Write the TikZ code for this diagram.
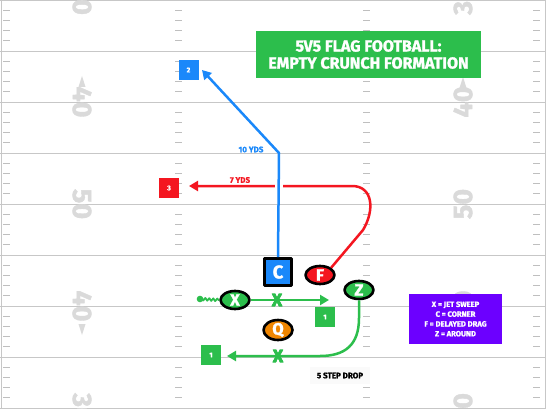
\documentclass[tikz,border=0pt]{standalone}
\usepackage{fontspec}
\setmainfont{Fira Sans}[BoldFeatures={FakeBold=1.4}]
\usetikzlibrary{arrows,arrows.meta,shapes.geometric,positioning,decorations.pathmorphing}

\definecolor{flaggreen}{RGB}{44,190,76}
\definecolor{routeblue}{RGB}{26,136,250}
\definecolor{routered}{RGB}{244,22,32}
\definecolor{qborange}{RGB}{240,134,0}
\definecolor{legendpurple}{RGB}{108,0,255}
\definecolor{numgray}{RGB}{218,218,218}

\begin{document}
\begin{tikzpicture}[x=1pt,y=-1pt,>={Triangle[length=9pt,width=10pt]},line join=round,
    yardline/.style={draw=black!22,line width=0.9pt},
    hash/.style={draw=black!25,line width=0.9pt},
    fieldnum/.style={text=numgray,font=\fontsize{27}{27}\selectfont\bfseries,inner sep=0pt},
    player/.style={ellipse,draw=black,line width=2.6pt,inner sep=0pt,minimum width=29pt,minimum height=18pt,text=white,font=\fontsize{16.5}{16.5}\selectfont\bfseries},
    centerbox/.style={rectangle,draw=black,line width=2.6pt,fill=routeblue,text=white,minimum size=27pt,inner sep=0pt,font=\fontsize{18.5}{18.5}\selectfont\bfseries},
    goalbox/.style={rectangle,minimum width=20pt,minimum height=20pt,inner sep=0pt,text=white,font=\fontsize{7}{7}\selectfont\bfseries},
    route/.style={line width=2.5pt},
    ydslabel/.style={font=\fontsize{8}{8}\selectfont\bfseries,inner sep=1pt},
    xmark/.style={text=flaggreen,font=\fontsize{18}{18}\selectfont\bfseries,inner sep=0pt}]

  \useasboundingbox (0,0) rectangle (546,409);
  \clip (0,0) rectangle (546,409);
  \fill[white] (0,0) rectangle (546,409);

  \foreach \i in {0,...,8}
    \draw[yardline] (0,{51*\i+0.5}) -- (546,{51*\i+0.5});
  \draw[yardline] (1,0) -- (1,409);
  \draw[yardline] (545,0) -- (545,409);
  \foreach \i in {0,...,7}
    \foreach \j in {1,...,4}
      \foreach \hx in {3,175,363,533}
        \draw[hash] ({\hx},{51*\i+10.2*\j}) -- ++(7,0);

  \foreach \y/\n in {0/30,102/40,204/50,306/40,408/30} {
    \node[fieldnum,rotate=-90] at (82,\y) {\n};
    \node[fieldnum,rotate=90] at (463,\y) {\n};
  }
  \fill[numgray] (82,76) -- (78.5,87) -- (85.5,87) -- cycle;
  \fill[numgray] (82,335) -- (78.5,324) -- (85.5,324) -- cycle;
  \fill[numgray] (463,77) -- (459.5,88) -- (466.5,88) -- cycle;

  \node[fill=flaggreen,text=white,align=center,minimum width=225pt,minimum height=47pt,
        font=\fontsize{16}{17}\selectfont\bfseries] (title) at (368.5,54.5)
        {5V5 FLAG FOOTBALL:\\EMPTY CRUNCH FORMATION};

  \node[centerbox] (c) at (278,272) {C};
  \node[player,fill=routered] (f) at (320,275) {F};
  \node[player,fill=flaggreen] (z) at (359,290) {Z};
  \node[player,fill=flaggreen] (x) at (235,300) {X};
  \node[player,fill=qborange] (q) at (278,330) {Q};

  \node[goalbox,fill=routeblue] (b2) at (188.5,70) {2};
  \node[goalbox,fill=routered] (b3) at (169,188) {3};
  \node[goalbox,fill=flaggreen] (b1x) at (325,317) {1};
  \node[goalbox,fill=flaggreen] (b1z) at (211,355) {1};

  \coordinate (cturn) at (279,153);
  \coordinate (cend) at (202,70);
  \coordinate (fturn) at (363,230);
  \coordinate (fbend) at (352,186);
  \coordinate (fend) at (189,186);
  \coordinate (xstart) at (200,299);
  \coordinate (xend) at (329,300);
  \coordinate (zturn) at (359,318);
  \coordinate (zbend) at (320,356);
  \coordinate (zend) at (227,356);

  \draw[route,routered,->] (f.north east) -- (fturn)
    .. controls (375,210) and (373,186) .. (fbend) -- (fend);
  \draw[white,line width=8pt] (279,181) -- (279,191);
  \draw[route,routeblue,->] (c.north) -- (cturn) -- (cend);

  \fill[flaggreen] (xstart) circle (3.3);
  \draw[flaggreen,line width=1.8pt,decorate,decoration={snake,amplitude=1.3pt,segment length=4pt}]
    (xstart) -- (x.west);
  \node[xmark] (xm1) at (277,300) {X};
  \node[xmark] (xm2) at (278,356) {X};
  \draw[route,flaggreen,->] (x.east) -- (xm1.center) -- (xend);
  \draw[route,flaggreen,->] (z.south) -- (zturn)
    .. controls (359,345) and (345,356) .. (zbend) -- (xm2.center) -- (zend);
  \node[xmark] at (xm1) {X};
  \node[xmark] at (xm2) {X};

  \node[ydslabel,text=routeblue] (l10) at (251,149.5) {10 YDS};
  \node[ydslabel,text=routered] (l7) at (240,180) {7 YDS};
  \node[ydslabel,fill=black!2,inner xsep=7pt,inner ysep=6pt] (drop) at (340,375.5) {5 STEP DROP};

  \node[fill=legendpurple,text=white,align=center,minimum width=93pt,minimum height=50pt,
        font=\fontsize{7.6}{9.8}\selectfont\bfseries] (legend) at (455.5,319)
        {X = JET SWEEP\\C = CORNER\\F = DELAYED DRAG\\Z = AROUND};
\end{tikzpicture}
\end{document}
